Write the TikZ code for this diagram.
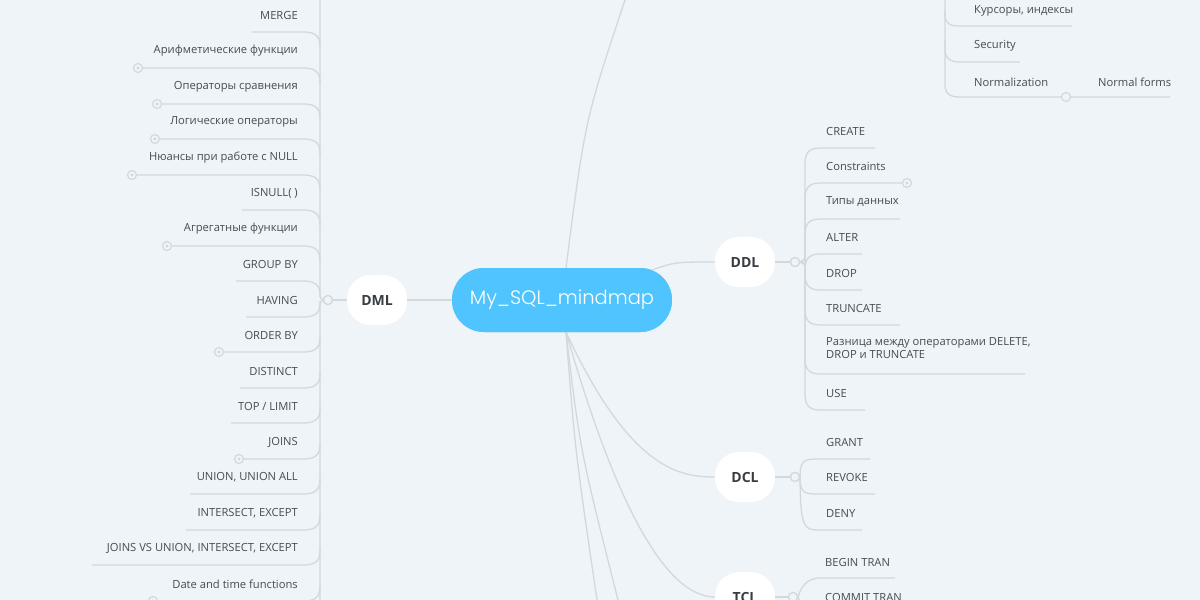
\documentclass[tikz,border=0pt]{standalone}
\usepackage{fontspec}
\setmainfont{Open Sans}
\newfontfamily\ctrfont{Poppins Light}
\definecolor{bg}{HTML}{EFF4F8}
\definecolor{ln}{HTML}{D3D8DD}
\definecolor{tx}{HTML}{474C54}
\definecolor{ctr}{HTML}{50C4FE}
\begin{document}
\begin{tikzpicture}[x=1pt,y=-1pt,
  conn/.style={draw=ln,line width=1.3pt},
  lbl/.style={font=\fontsize{11.2}{13}\selectfont,text=tx,inner sep=0pt},
  topic/.style={fill=white,rounded corners=24pt,minimum width=60pt,minimum height=50pt,font=\fontsize{14}{16}\selectfont\bfseries,text=tx!80!black},
  ctrnode/.style={fill=ctr,rounded corners=32pt,minimum width=220pt,minimum height=64pt,text=white,font=\ctrfont\fontsize{19.5}{21}\selectfont},
  dot/.style={circle,draw=ln,fill=bg,line width=1.2pt,minimum size=9pt,inner sep=0pt},
  fdot/.style={dot,path picture={\fill[ln] (path picture bounding box.center) circle (1.6pt);}}]
\fill[bg] (0,0) rectangle (1200,600);
\useasboundingbox (0,0) rectangle (1200,600);
% center
\node[ctrnode] (c) at (562,300) {My\_SQL\_mindmap};
\node[topic] (dml) at (377,300) {DML};
\node[topic] (ddl) at (745,262) {DDL};
\node[topic] (dcl) at (745,477) {DCL};
\node[topic,anchor=north] (tcl) at (745,572) {TCL};
\coordinate (up) at (625,0);
\coordinate (dn1) at (597,600);
\coordinate (dn2) at (618,600);
\draw[conn] (c.west) -- (dml.east);
\draw[conn] (652,270) .. controls (675,262) .. (ddl.west);
\draw[conn] (566,268) .. controls (585,120) .. (up);
\draw[conn] (566,332) .. controls (575,450) .. (dn1);
\draw[conn] (566,332) .. controls (580,450) .. (dn2);
\draw[conn] (566,332) .. controls (630,470) and (680,477) .. (dcl.west);
\draw[conn] (566,332) .. controls (620,520) and (670,597) .. (715,597);
\node[ctrnode] at (562,300) {My\_SQL\_mindmap};
% DML branches
\node[dot] (dmld) at (328,300) {};
\draw[conn] (dml.west) -- (dmld);
\draw[conn] (320,-5) -- (320,292) .. controls (320,298) .. (dmld.west);
\draw[conn] (320,605) -- (320,308) .. controls (320,302) .. (dmld.west);
\foreach \t/\y/\l/\k in {MERGE/15/252/0,Арифметические функции/51/138/1,Операторы сравнения/87/157/1,Логические операторы/122/155/1,Нюансы при работе с NULL/158/132/1,ISNULL( )/193/242/0,Агрегатные функции/229/167/1,GROUP BY/264/236/0,HAVING/300/246/0,ORDER BY/335/219/1,DISTINCT/371/240/0,{TOP / LIMIT}/406/231/0,JOINS/442/239/1,{UNION, UNION ALL}/477/190/0,{INTERSECT, EXCEPT}/513/186/0,{JOINS VS UNION, INTERSECT, EXCEPT}/548/92/0,Date and time functions/584/153/1}{
  \pgfmathsetmacro\yl{\y+17}
  \node[lbl,anchor=east] (n\y) at (298,\y) {\t};
  \ifdim\yl pt<300pt
    \draw[conn] (\l,\yl) -- (303,\yl) .. controls (318,\yl) and (320,\yl+6) .. (320,\yl+16);
  \else
    \draw[conn] (\l,\yl) -- (303,\yl) .. controls (318,\yl) and (320,\yl-6) .. (320,\yl-16);
  \fi
  \ifnum\k=1 \node[fdot] at (\l,\yl) {}; \fi
}
\node[dot] at (328,300) {};
% DDL
\node[dot] (ddld) at (795,262) {};
\draw[conn] (ddl.east) -- (ddld);
\foreach \t/\y/\r in {CREATE/131/875,Constraints/166/907,Типы данных/202/900,ALTER/237/862,DROP/273/862,TRUNCATE/308/900,USE/393/865}{
  \node[lbl,anchor=west] at (826,\y) {\t};
  \pgfmathsetmacro\yl{\y+17}
  \ifdim\yl pt<262pt
    \draw[conn] (\r,\yl) -- (820,\yl) .. controls (808,\yl) and (805,\yl+6) .. (805,\yl+16) -- (805,254) .. controls (805,260) .. (ddld.east);
  \else
    \draw[conn] (\r,\yl) -- (820,\yl) .. controls (808,\yl) and (805,\yl-6) .. (805,\yl-16) -- (805,270) .. controls (805,264) .. (ddld.east);
  \fi
}
\node[lbl,anchor=north west,align=left,font=\fontsize{11.2}{13.5}\selectfont] at (826,337) {Разница между операторами DELETE,\\DROP и TRUNCATE};
\draw[conn] (1025,374) -- (820,374) .. controls (808,374) and (805,368) .. (805,358) -- (805,270);
\node[fdot] at (907,183) {};
\node[dot] at (795,262) {};
% DCL
\node[dot] (dcld) at (795,477) {};
\draw[conn] (dcl.east) -- (dcld);
\foreach \t/\y/\r in {GRANT/442/870,REVOKE/477/875,DENY/513/862}{
  \node[lbl,anchor=west] at (826,\y) {\t};
  \pgfmathsetmacro\yl{\y+17}
  \draw[conn] (\r,\yl) -- (820,\yl) .. controls (805,\yl) and (800,\yl) .. (dcld.east);
}
\node[dot] at (795,477) {};
% TCL
\node[dot] (tcld) at (793,597) {};
\draw[conn] (775,597) -- (tcld);
\node[lbl,anchor=west] at (825,562) {BEGIN TRAN};
\node[lbl,anchor=west] at (825,597) {COMMIT TRAN};
\draw[conn] (895,578) -- (820,578) .. controls (805,578) and (800,590) .. (tcld.east);
\draw[conn] (903,613) -- (820,613) .. controls (805,613) and (800,604) .. (tcld.east);
\node[dot] at (793,597) {};
% top right
\node[lbl,anchor=west] at (974,11) {Курсоры, индексы};
\node[lbl,anchor=west] at (974,46) {Security};
\node[lbl,anchor=west] at (974,82) {Normalization};
\node[lbl,anchor=west] (nf) at (1098,82) {Normal forms};
\draw[conn] (945,-10) -- (945,14) .. controls (945,24) and (950,26) .. (960,26) -- (1072,26);
\draw[conn] (945,10) -- (945,50) .. controls (945,58) and (950,62) .. (960,62) -- (1020,62);
\draw[conn] (945,40) -- (945,84) .. controls (945,94) and (950,97) .. (960,97) -- (1170,97);
\node[dot] at (1066,97) {};
\end{tikzpicture}
\end{document}
